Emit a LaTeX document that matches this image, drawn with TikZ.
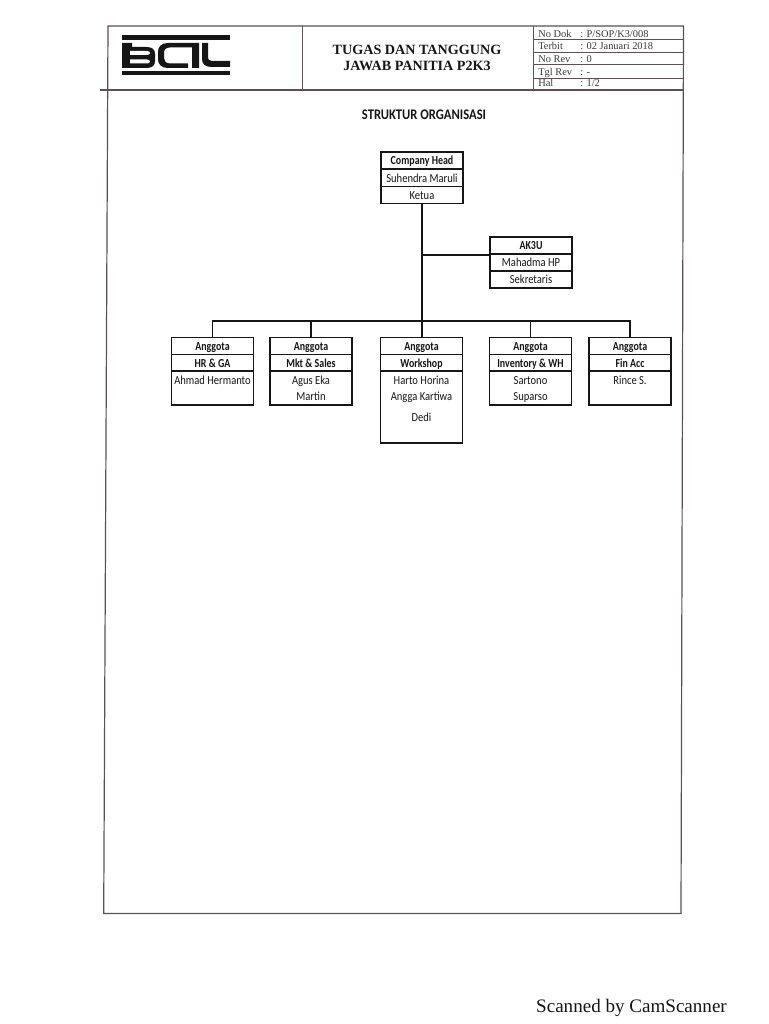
\documentclass[tikz,border=0pt]{standalone}
\usepackage{fontspec}
\setmainfont{Liberation Serif}
\newfontfamily\boxfont[FakeStretch=0.86]{Carlito}
\newfontfamily\boxboldfont[FakeStretch=0.81]{Carlito}
\definecolor{framec}{HTML}{5E4F52}
\definecolor{inkc}{HTML}{161616}
\definecolor{metac}{HTML}{3A3A3A}
\tikzset{
  x=0.75pt,y=-0.75pt,
  frameline/.style={draw=framec,line width=0.9pt},
  thinline/.style={draw=framec,line width=0.6pt},
  cell/.style={draw=inkc,line width=1.1pt,fill=white,minimum width=61.5pt,minimum height=12.75pt,inner sep=0pt,text=inkc,text height=7pt,text depth=0.8pt,font=\boxfont\fontsize{9.2}{10}\selectfont},
  cellb/.style={cell,font=\boxboldfont\bfseries\fontsize{9.2}{10}\selectfont},
  bodyA/.style={cell,minimum height=25.5pt},
  bodyB/.style={cell,minimum height=54pt},
  persontext/.style={inner sep=0pt,text=inkc,text height=7pt,text depth=0.8pt,font=\boxfont\fontsize{9.2}{10}\selectfont},
  wire/.style={draw=inkc,line width=1.25pt},
  metatext/.style={inner sep=0pt,anchor=west,text=metac,text height=6.8pt,text depth=0.2pt,font=\fontsize{7.8}{9}\selectfont},
  headtitle/.style={inner sep=0pt,text=inkc,font=\bfseries\fontsize{10.6}{12}\selectfont},
  logoink/.style={fill=inkc,draw=none}
}
\begin{document}
\begin{tikzpicture}
\useasboundingbox (0,0) rectangle (768,1024);
\fill[white] (0,0) rectangle (768,1024);
% frame
\coordinate (tl) at (108,26);
\coordinate (tr) at (683.5,26);
\coordinate (bl) at (103.7,913.5);
\coordinate (br) at (681,913.5);
\draw[frameline] (tl) -- (tr) -- (br) -- (bl) -- cycle;
\coordinate (hl) at (100,90);
\coordinate (hr) at (683,90);
\draw[frameline] (hl) -- (hr);
\coordinate (d1a) at (302,26);\coordinate (d1b) at (302,90);
\draw[thinline] (d1a) -- (d1b);
\coordinate (d2a) at (533,26);\coordinate (d2b) at (533,90);
\draw[thinline] (d2a) -- (d2b);
\foreach \yy in {39,52,64,78}{\draw[thinline] (533,\yy) -- (683,\yy);}
% logo
\fill[logoink] (122,35) rectangle (230,40.5);
\fill[logoink] (122,71) rectangle (230,75.5);
\fill[logoink] (122,43) -- (132,43) -- (132,47) -- (146,47) .. controls (152,47) and (155,49) .. (155,54) -- (155,61) .. controls (155,66) and (152,68) .. (146,68) -- (122,68) -- cycle;
\fill[white] (130,51) -- (147,51) .. controls (151,51) and (151,55) .. (147,55) -- (130,55) -- cycle;
\fill[white] (130,59.5) -- (147,59.5) .. controls (151,59.5) and (151,63.5) .. (147,63.5) -- (130,63.5) -- cycle;
\fill[logoink] (199,43) -- (168,43) .. controls (161,43) and (158,47) .. (158,52) -- (158,59) .. controls (158,64) and (161,68) .. (168,68) -- (188,68) -- (188,63.5) -- (170,63.5) .. controls (166,63.5) and (164,61) .. (164,58) -- (164,53) .. controls (164,49.5) and (166,47.5) .. (170,47.5) -- (192,47.5) -- (192,68) -- (199,68) -- cycle;
\fill[logoink] (202,43) -- (208,43) -- (208,56) .. controls (208,59.5) and (209,61) .. (212,61) -- (230,61) -- (230,67) -- (212,67) .. controls (205,67) and (202,64) .. (202,59) -- cycle;
% header text
\node[headtitle] (t1) at (417,49.5) {TUGAS DAN TANGGUNG};
\node[headtitle] (t2) at (417,65.5) {JAWAB PANITIA P2K3};
\node[metatext] (m1) at (538,33.5) {No Dok};\node[metatext] (m1b) at (580,33.5) {: P/SOP/K3/008};
\node[metatext] (m2) at (538,45.5) {Terbit};\node[metatext] (m2b) at (580,45.5) {: 02 Januari 2018};
\node[metatext] (m3) at (538,58) {No Rev};\node[metatext] (m3b) at (580,58) {: 0};
\node[metatext] (m4) at (538,71) {Tgl Rev};\node[metatext] (m4b) at (580,71) {: -};
\node[metatext] (m5) at (538,82.5) {Hal};\node[metatext] (m5b) at (580,82.5) {: 1/2};
\node[inner sep=0pt,text=inkc,font=\boxfont\bfseries\fontsize{11}{12}\selectfont] (st) at (424,115) {STRUKTUR ORGANISASI};
% head
\node[cellb] (c1) at (422,160.5) {Company Head};
\node[cell] (c2) at (422,178) {Suhendra Maruli};
\node[cell] (c3) at (422,195) {Ketua};
% secretary
\node[cellb] (s1) at (531,245.5) {AK3U};
\node[cell] (s2) at (531,262.5) {Mahadma HP};
\node[cell] (s3) at (531,279.5) {Sekretaris};
% members row
\node[cellb] (a1) at (212.5,346) {Anggota};
\node[cellb] (a2) at (212.5,363) {HR \& GA};
\node[bodyA] (a3) at (212.5,388) {};
\node[persontext] (a4) at (212.5,380) {Ahmad Hermanto};
\node[cellb] (b1) at (311,346) {Anggota};
\node[cellb] (b2) at (311,363) {Mkt \& Sales};
\node[bodyA] (b3) at (311,388) {};
\node[persontext] (b4) at (311,380) {Agus Eka};
\node[persontext] (b5) at (311,396.5) {Martin};
\node[cellb] (w1) at (421.5,346) {Anggota};
\node[cellb] (w2) at (421.5,363) {Workshop};
\node[bodyB] (w3) at (421.5,407) {};
\node[persontext] (w4) at (421.5,380) {Harto Horina};
\node[persontext] (w5) at (421.5,396.5) {Angga Kartiwa};
\node[persontext] (w6) at (421.5,417) {Dedi};
\node[cellb] (i1) at (530.5,346) {Anggota};
\node[cellb] (i2) at (530.5,363) {Inventory \& WH};
\node[bodyA] (i3) at (530.5,388) {};
\node[persontext] (i4) at (530.5,380) {Sartono};
\node[persontext] (i5) at (530.5,396.5) {Suparso};
\node[cellb] (f1) at (630,346) {Anggota};
\node[cellb] (f2) at (630,363) {Fin Acc};
\node[bodyA] (f3) at (630,388) {};
\node[persontext] (f4) at (630,380) {Rince S.};
% connectors
\coordinate (bus) at (422,321);
\draw[wire] (c3.south) -- (c3.south |- w1.north);
\draw[wire] (c3.south |- s1.south west) -- (s1.south west);
\draw[wire] (a1.north) -- (a1.north |- bus) -- (f1.north |- bus) -- (f1.north);
\draw[wire] (b1.north) -- (b1.north |- bus);
\draw[wire] (i1.north) -- (i1.north |- bus);
% footer
\node[inner sep=0pt,text=inkc,font=\fontsize{14.3}{16}\selectfont] (sc) at (631.5,1007.5) {Scanned by CamScanner};
\end{tikzpicture}
\end{document}
